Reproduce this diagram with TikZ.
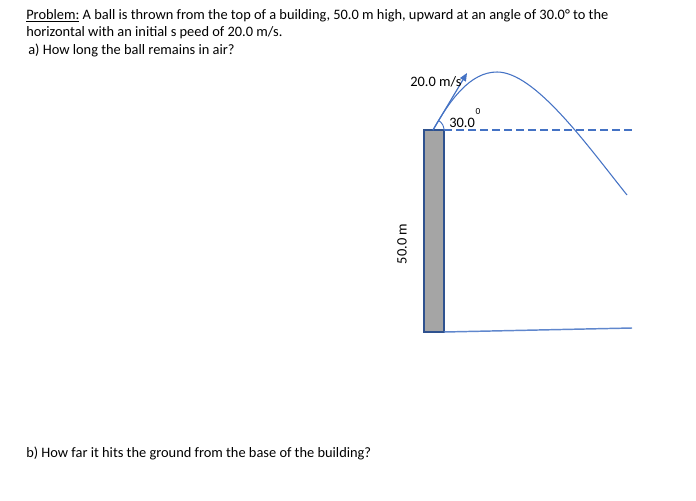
\documentclass[tikz,border=0pt]{standalone}
\usepackage{fontspec}
\setmainfont{Carlito}
\usetikzlibrary{arrows.meta}
\definecolor{oblue}{HTML}{4472C4}
\definecolor{dblue}{HTML}{2F528F}
\definecolor{bgray}{HTML}{A5A5A5}
\begin{document}
\begin{tikzpicture}[x=0.75pt,y=-0.75pt,
  txt/.style={inner sep=0pt,anchor=base west,font=\fontsize{10.8}{13}\selectfont},
  traj/.style={draw=oblue,line width=0.8pt},
  bldg/.style={draw=dblue,fill=bgray,line width=1pt},
  refline/.style={draw=oblue,line width=0.9pt,dash pattern=on 6pt off 3pt},
  ground/.style={draw=oblue!85,line width=1.1pt}]
\useasboundingbox (0,0) rectangle (696,500);
% text
\node[txt] (l1) at (26,19) {\underline{Problem:} A ball is thrown from the top of a building, 50.0 m high, upward at an angle of 30.0° to the};
\node[txt] (l2) at (26,36.5) {horizontal with an initial s peed of 20.0 m/s.};
\node[txt] (l3) at (28,54) {a) How long the ball remains in air?};
\node[txt] (l4) at (26,457) {b) How far it hits the ground from the base of the building?};
% building
\draw[bldg] (424,130) rectangle (444,332);
\coordinate (btr) at (444,130);
\coordinate (bbr) at (444,332);
\coordinate (gend) at (632,328);
\coordinate (dend) at (632,130);
\draw[refline] (btr) -- (dend);
\draw[ground] (bbr) -- (gend);
% trajectory
\coordinate (s) at (433,130);
\coordinate (pk) at (497,72);
\coordinate (e) at (627,195);
\draw[traj] (s) .. controls (450,100) and (470,72) .. (pk)
            .. controls (535,72) and (587,145) .. (e);
% velocity arrow
\coordinate (vt) at (467,73);
\draw[oblue,line width=0.9pt,-{Triangle[length=6pt,width=5pt]}] (s) -- (vt);
% angle arc
\draw[oblue,line width=0.7pt] (s) ++(11,0) arc[start angle=0,end angle=-58,radius=11];
% labels
\node[txt] (v) at (410,86) {20.0 m/s};
\node[txt] (ang) at (449,127) {30.0};
\node[inner sep=0pt,font=\fontsize{7}{8}\selectfont] (deg) at (478,112) {0};
\node[inner sep=0pt,font=\fontsize{10.8}{13}\selectfont,rotate=90] (h) at (402,244) {50.0 m};
\end{tikzpicture}
\end{document}
